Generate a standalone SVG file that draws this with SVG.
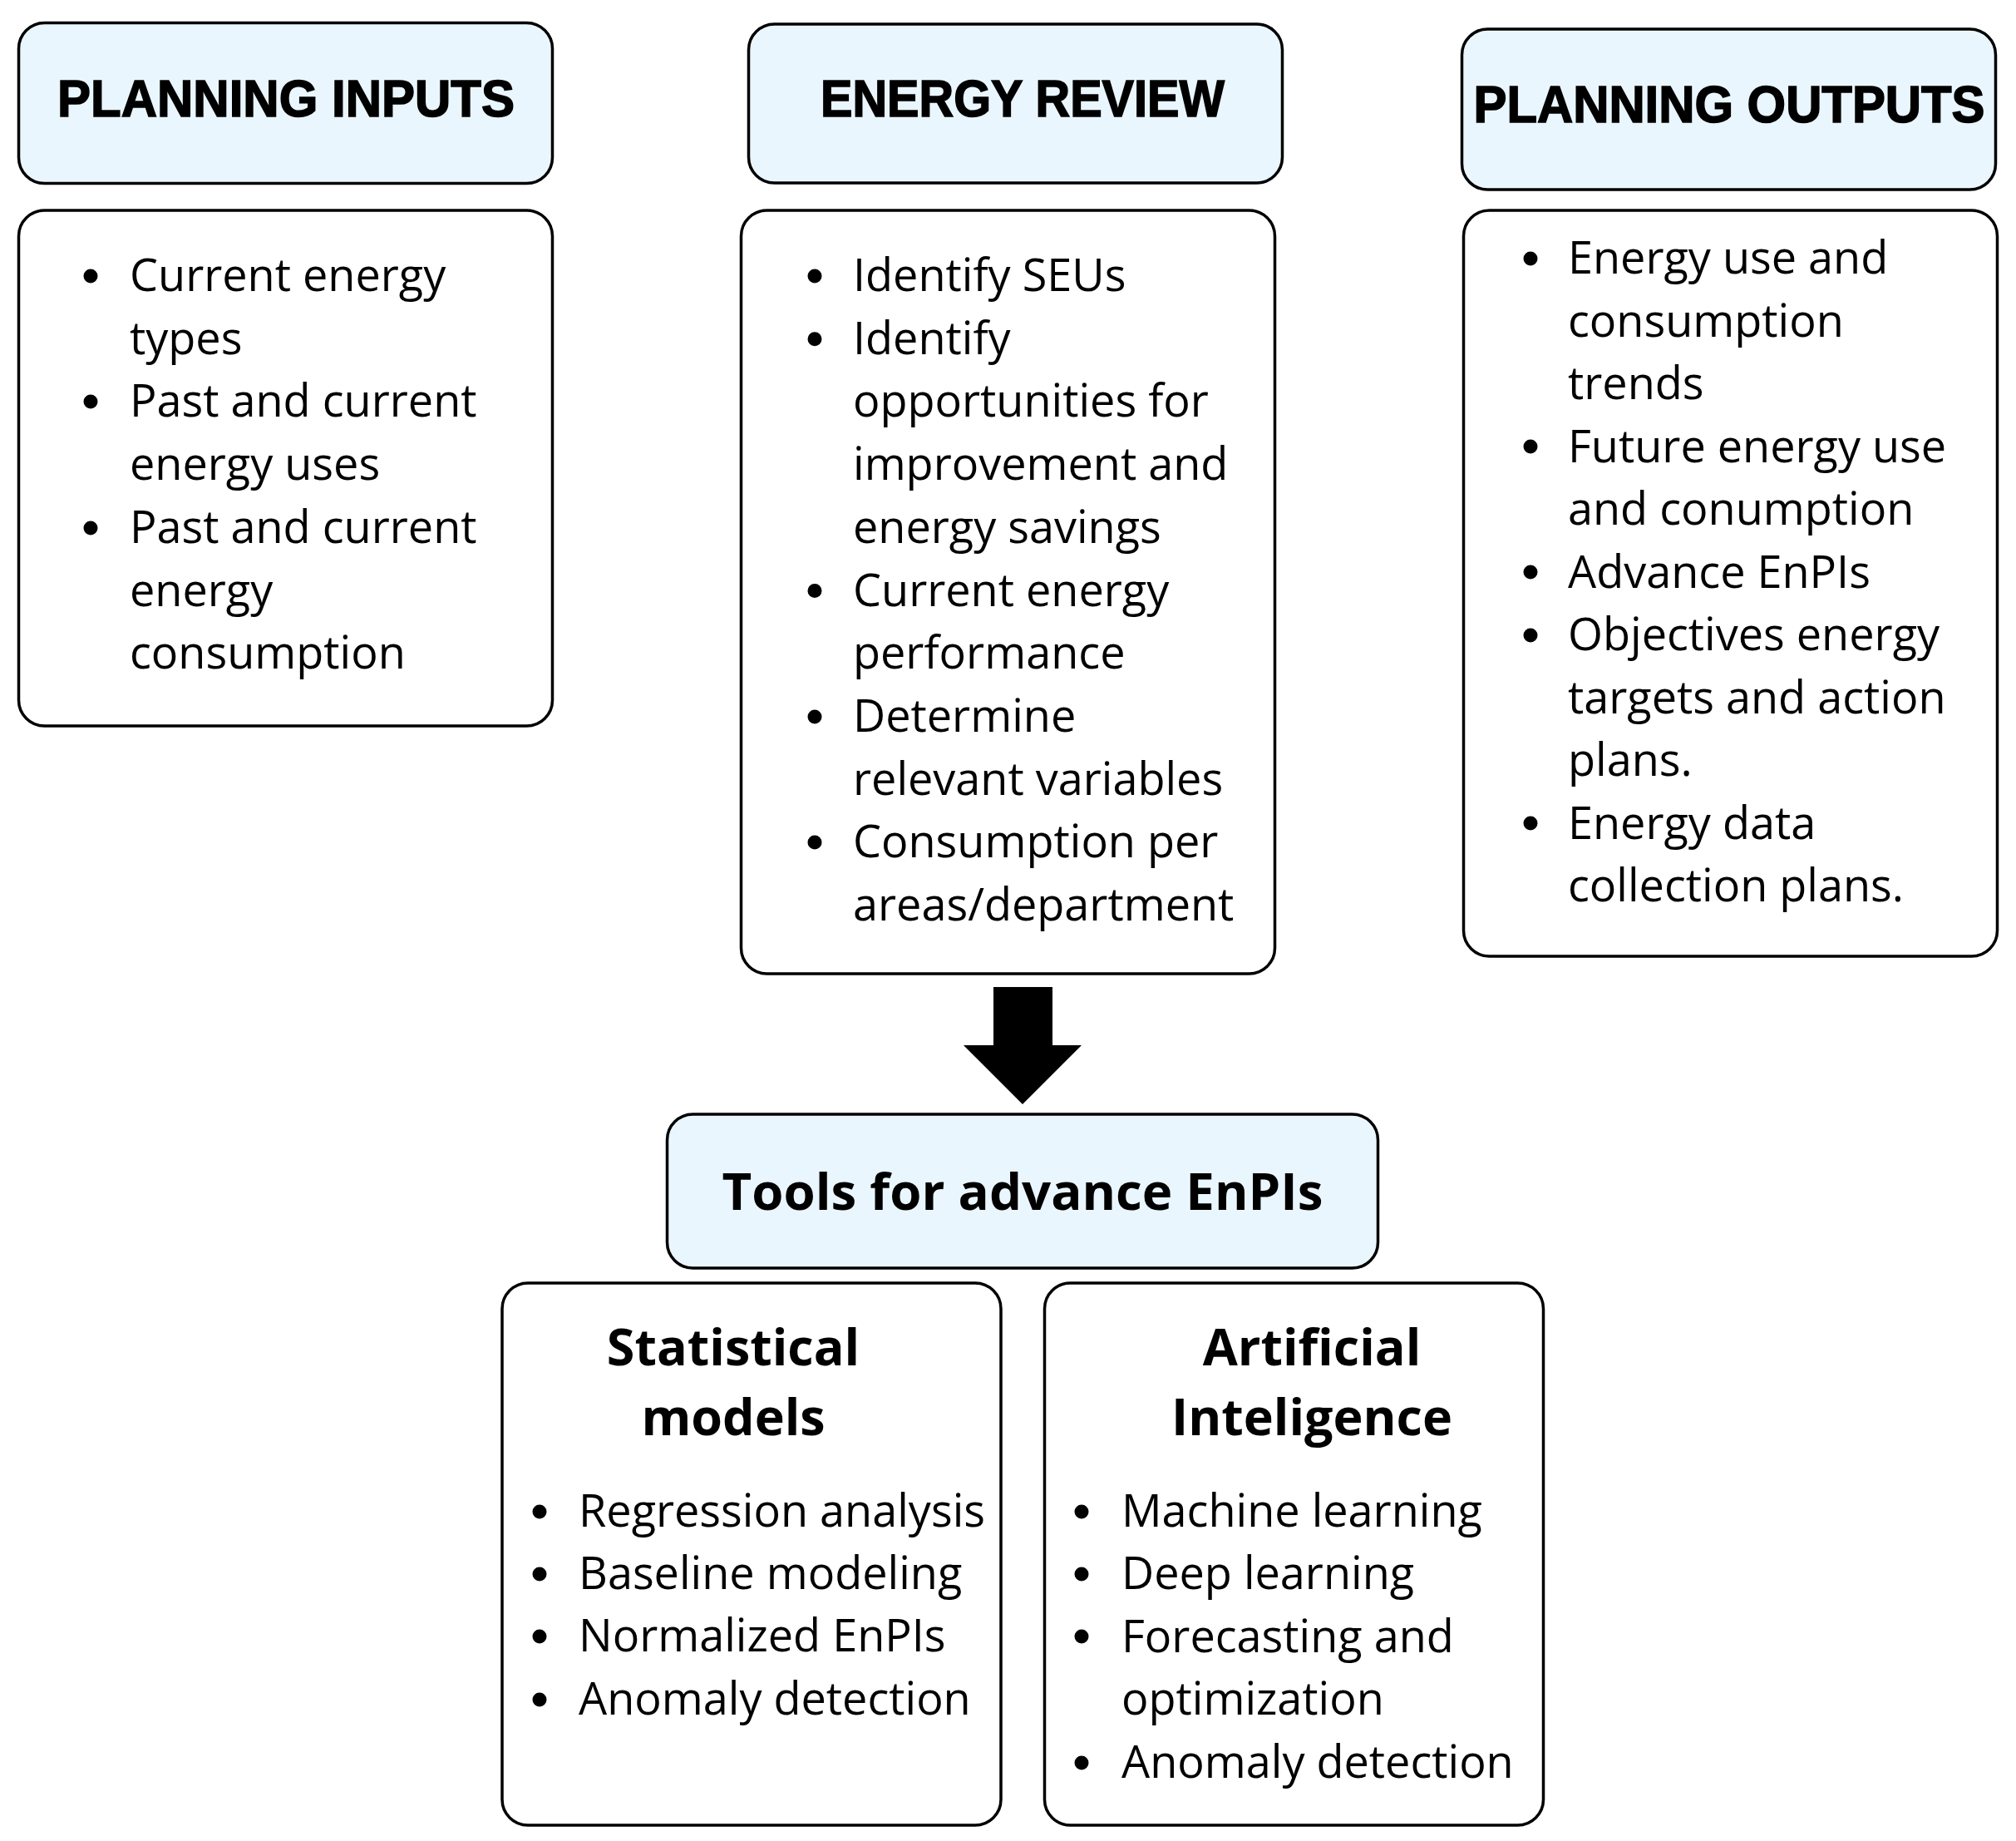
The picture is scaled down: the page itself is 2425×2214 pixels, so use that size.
<svg xmlns="http://www.w3.org/2000/svg" width="2425" height="2214" viewBox="0 0 2425 2214">
<style>
.hdr{fill:#EAF6FD;stroke:#000;stroke-width:3.5}
.body{fill:#fff;stroke:#000;stroke-width:3.5}
.ht{font-family:"Liberation Sans",Arial,sans-serif;font-weight:bold;font-size:63px;fill:#000;stroke:#000;stroke-width:1.6;text-anchor:middle}
.bt{font-family:"Open Sans",sans-serif;font-weight:bold;font-size:61px;fill:#000;text-anchor:middle}
.t{font-family:"Open Sans",sans-serif;font-size:54px;fill:#000}
.dot{fill:#000}
</style>
<rect width="2425" height="2214" fill="#fff"/>
<g id="planning-inputs">
<rect class="hdr" x="22.5" y="27.5" width="642" height="193" rx="31"/>
<text class="ht" x="344" y="140" textLength="550" lengthAdjust="spacingAndGlyphs">PLANNING INPUTS</text>
<rect class="body" x="22.5" y="253" width="642" height="620" rx="31"/>
<circle class="dot" cx="109" cy="332" r="8.5"/>
<circle class="dot" cx="109" cy="483" r="8.5"/>
<circle class="dot" cx="109" cy="635" r="8.5"/>
<text class="t" x="156" y="350">Current energy</text>
<text class="t" x="156" y="425.7">types</text>
<text class="t" x="156" y="501.4">Past and current</text>
<text class="t" x="156" y="577">energy uses</text>
<text class="t" x="156" y="652.8">Past and current</text>
<text class="t" x="156" y="728.5">energy</text>
<text class="t" x="156" y="804">consumption</text>
</g>
<g id="energy-review">
<rect class="hdr" x="900.5" y="29" width="642" height="191" rx="31"/>
<text class="ht" x="1230" y="140" textLength="486" lengthAdjust="spacingAndGlyphs">ENERGY REVIEW</text>
<rect class="body" x="891.5" y="253" width="642" height="918" rx="31"/>
<circle class="dot" cx="980" cy="332" r="8.5"/>
<circle class="dot" cx="980" cy="407.7" r="8.5"/>
<circle class="dot" cx="980" cy="710.5" r="8.5"/>
<circle class="dot" cx="980" cy="861.9" r="8.5"/>
<circle class="dot" cx="980" cy="1013" r="8.5"/>
<text class="t" x="1026" y="350">Identify SEUs</text>
<text class="t" x="1026" y="425.7">Identify</text>
<text class="t" x="1026" y="501.4">opportunities for</text>
<text class="t" x="1026" y="577">improvement and</text>
<text class="t" x="1026" y="652.8">energy savings</text>
<text class="t" x="1026" y="728.5">Current energy</text>
<text class="t" x="1026" y="804.2">performance</text>
<text class="t" x="1026" y="879.9">Determine</text>
<text class="t" x="1026" y="955.6">relevant variables</text>
<text class="t" x="1026" y="1031.3">Consumption per</text>
<text class="t" x="1026" y="1107">areas/department</text>
</g>
<g id="planning-outputs">
<rect class="hdr" x="1758.5" y="35" width="642" height="193" rx="31"/>
<text class="ht" x="2080" y="147" textLength="615" lengthAdjust="spacingAndGlyphs">PLANNING OUTPUTS</text>
<rect class="body" x="1760.5" y="253" width="642" height="897" rx="31"/>
<circle class="dot" cx="1841" cy="311" r="8.5"/>
<circle class="dot" cx="1841" cy="537" r="8.5"/>
<circle class="dot" cx="1841" cy="688" r="8.5"/>
<circle class="dot" cx="1841" cy="764" r="8.5"/>
<circle class="dot" cx="1841" cy="990" r="8.5"/>
<text class="t" x="1886" y="329">Energy use and</text>
<text class="t" x="1886" y="404.5">consumption</text>
<text class="t" x="1886" y="480">trends</text>
<text class="t" x="1886" y="555.5">Future energy use</text>
<text class="t" x="1886" y="631">and conumption</text>
<text class="t" x="1886" y="706.5">Advance EnPIs</text>
<text class="t" x="1886" y="782">Objectives energy</text>
<text class="t" x="1886" y="857.5">targets and action</text>
<text class="t" x="1886" y="933">plans.</text>
<text class="t" x="1886" y="1008.5">Energy data</text>
<text class="t" x="1886" y="1084">collection plans.</text>
</g>
<g id="connectors">
<polygon points="1195,1187 1266,1187 1266,1257 1301,1257 1230,1328 1159,1257 1195,1257" fill="#000"/>
</g>
<g id="tools">
<rect class="hdr" x="802.5" y="1340" width="855" height="185" rx="31"/>
<text class="bt" x="1230" y="1455" textLength="723" lengthAdjust="spacingAndGlyphs">Tools for advance EnPIs</text>
</g>
<g id="statistical-models">
<rect class="body" x="604" y="1543" width="600" height="652" rx="31"/>
<text class="bt" x="882" y="1642">Statistical</text>
<text class="bt" x="882" y="1726">models</text>
<circle class="dot" cx="649" cy="1818" r="8.5"/>
<circle class="dot" cx="649" cy="1893" r="8.5"/>
<circle class="dot" cx="649" cy="1968" r="8.5"/>
<circle class="dot" cx="649" cy="2044" r="8.5"/>
<text class="t" x="696" y="1836">Regression analysis</text>
<text class="t" x="696" y="1911">Baseline modeling</text>
<text class="t" x="696" y="1986">Normalized EnPIs</text>
<text class="t" x="696" y="2062">Anomaly detection</text>
</g>
<g id="artificial-intelligence">
<rect class="body" x="1256.5" y="1543" width="600" height="652" rx="31"/>
<text class="bt" x="1578" y="1642">Artificial</text>
<text class="bt" x="1578" y="1726">Inteligence</text>
<circle class="dot" cx="1301" cy="1818" r="8.5"/>
<circle class="dot" cx="1301" cy="1893" r="8.5"/>
<circle class="dot" cx="1301" cy="1968" r="8.5"/>
<circle class="dot" cx="1301" cy="2120" r="8.5"/>
<text class="t" x="1349" y="1836">Machine learning</text>
<text class="t" x="1349" y="1911">Deep learning</text>
<text class="t" x="1349" y="1987">Forecasting and</text>
<text class="t" x="1349" y="2062">optimization</text>
<text class="t" x="1349" y="2138">Anomaly detection</text>
</g>
</svg>
